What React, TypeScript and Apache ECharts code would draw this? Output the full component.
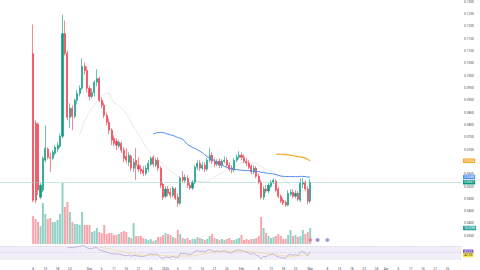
import React, { useEffect, useRef } from "react";
import * as echarts from "echarts";

// ---------- data ----------
const START_DATE = "2025-10-26";
const DAY_COUNT = 188;
const FIRST_CANDLE = "2025-11-08";

const OPEN = [
  0.1089, 0.0806, 0.0802, 0.0506, 0.0535, 0.0656, 0.0701, 0.0668, 0.0664, 0.0684,
  0.0701, 0.0713, 0.0753, 0.1170, 0.1089, 0.0830, 0.0867, 0.0834, 0.0899, 0.0927,
  0.0948, 0.1037, 0.1020, 0.0948, 0.0915, 0.0931, 0.0972, 0.0988, 0.0899, 0.0879,
  0.0838, 0.0810, 0.0778, 0.0745, 0.0733, 0.0713, 0.0725, 0.0697, 0.0672, 0.0648,
  0.0672, 0.0624, 0.0656, 0.0636, 0.0620, 0.0616, 0.0603, 0.0620, 0.0640, 0.0668,
  0.0636, 0.0656, 0.0624, 0.0559, 0.0510, 0.0539, 0.0526, 0.0514, 0.0539, 0.0506,
  0.0482, 0.0587, 0.0575, 0.0583, 0.0555, 0.0543, 0.0567, 0.0628, 0.0644, 0.0624,
  0.0636, 0.0620, 0.0656, 0.0676, 0.0652, 0.0640, 0.0652, 0.0636, 0.0652, 0.0656,
  0.0636, 0.0624, 0.0616, 0.0656, 0.0668, 0.0676, 0.0668, 0.0652, 0.0644, 0.0632,
  0.0608, 0.0624, 0.0591, 0.0567, 0.0506, 0.0539, 0.0531, 0.0551, 0.0567, 0.0571,
  0.0539, 0.0510, 0.0494, 0.0486, 0.0474, 0.0518, 0.0526, 0.0510, 0.0522, 0.0494,
  0.0559, 0.0567, 0.0539, 0.0490,
];
const CLOSE = [
  0.0494, 0.0494, 0.0535, 0.0555, 0.0664, 0.0705, 0.0668, 0.0664, 0.0688, 0.0709,
  0.0717, 0.0753, 0.1170, 0.1089, 0.0830, 0.0867, 0.0834, 0.0899, 0.0927, 0.0948,
  0.1037, 0.1020, 0.0948, 0.0915, 0.0931, 0.0972, 0.0988, 0.0899, 0.0879, 0.0838,
  0.0810, 0.0778, 0.0737, 0.0725, 0.0717, 0.0729, 0.0697, 0.0664, 0.0656, 0.0676,
  0.0624, 0.0648, 0.0636, 0.0620, 0.0612, 0.0603, 0.0624, 0.0644, 0.0664, 0.0640,
  0.0656, 0.0624, 0.0555, 0.0506, 0.0539, 0.0522, 0.0514, 0.0543, 0.0502, 0.0482,
  0.0583, 0.0575, 0.0587, 0.0555, 0.0543, 0.0567, 0.0628, 0.0644, 0.0624, 0.0636,
  0.0620, 0.0656, 0.0676, 0.0652, 0.0640, 0.0652, 0.0636, 0.0652, 0.0656, 0.0636,
  0.0620, 0.0616, 0.0656, 0.0668, 0.0676, 0.0668, 0.0652, 0.0644, 0.0628, 0.0608,
  0.0624, 0.0591, 0.0567, 0.0506, 0.0539, 0.0531, 0.0555, 0.0567, 0.0575, 0.0535,
  0.0510, 0.0490, 0.0482, 0.0474, 0.0522, 0.0526, 0.0510, 0.0522, 0.0498, 0.0563,
  0.0567, 0.0539, 0.0490, 0.0567,
];
const LOW = [
  0.0486, 0.0482, 0.0514, 0.0498, 0.0526, 0.0648, 0.0660, 0.0608, 0.0656, 0.0676,
  0.0688, 0.0705, 0.0745, 0.1081, 0.0818, 0.0786, 0.0778, 0.0826, 0.0883, 0.0915,
  0.0940, 0.1004, 0.0931, 0.0899, 0.0907, 0.0915, 0.0956, 0.0891, 0.0867, 0.0826,
  0.0798, 0.0761, 0.0717, 0.0713, 0.0697, 0.0705, 0.0684, 0.0648, 0.0644, 0.0632,
  0.0612, 0.0608, 0.0575, 0.0608, 0.0599, 0.0591, 0.0595, 0.0608, 0.0632, 0.0628,
  0.0628, 0.0612, 0.0543, 0.0494, 0.0502, 0.0510, 0.0502, 0.0506, 0.0494, 0.0466,
  0.0474, 0.0567, 0.0563, 0.0543, 0.0535, 0.0535, 0.0559, 0.0616, 0.0612, 0.0616,
  0.0608, 0.0612, 0.0648, 0.0640, 0.0628, 0.0632, 0.0624, 0.0624, 0.0644, 0.0628,
  0.0612, 0.0603, 0.0608, 0.0648, 0.0660, 0.0656, 0.0644, 0.0632, 0.0620, 0.0599,
  0.0599, 0.0583, 0.0559, 0.0498, 0.0494, 0.0522, 0.0522, 0.0543, 0.0559, 0.0526,
  0.0502, 0.0482, 0.0474, 0.0466, 0.0470, 0.0510, 0.0502, 0.0502, 0.0490, 0.0486,
  0.0543, 0.0531, 0.0478, 0.0482,
];
const HIGH = [
  0.1207, 0.0818, 0.0810, 0.0563, 0.0672, 0.0798, 0.0709, 0.0688, 0.0697, 0.0717,
  0.0729, 0.0765, 0.1247, 0.1223, 0.1102, 0.0887, 0.0879, 0.0907, 0.0940, 0.0960,
  0.1069, 0.1053, 0.1037, 0.0960, 0.0948, 0.0980, 0.1025, 0.0996, 0.0911, 0.0891,
  0.0850, 0.0826, 0.0786, 0.0757, 0.0745, 0.0737, 0.0733, 0.0709, 0.0705, 0.0688,
  0.0680, 0.0664, 0.0705, 0.0668, 0.0636, 0.0632, 0.0636, 0.0656, 0.0672, 0.0676,
  0.0664, 0.0668, 0.0632, 0.0567, 0.0551, 0.0551, 0.0543, 0.0551, 0.0547, 0.0522,
  0.0591, 0.0612, 0.0599, 0.0595, 0.0567, 0.0575, 0.0636, 0.0656, 0.0656, 0.0648,
  0.0648, 0.0664, 0.0705, 0.0688, 0.0664, 0.0660, 0.0664, 0.0660, 0.0672, 0.0668,
  0.0648, 0.0636, 0.0664, 0.0680, 0.0693, 0.0688, 0.0680, 0.0664, 0.0656, 0.0640,
  0.0636, 0.0632, 0.0603, 0.0575, 0.0551, 0.0555, 0.0563, 0.0575, 0.0583, 0.0579,
  0.0547, 0.0518, 0.0502, 0.0494, 0.0535, 0.0539, 0.0539, 0.0535, 0.0531, 0.0583,
  0.0583, 0.0575, 0.0551, 0.0579,
];
// volume, millions
const VOLUME = [
  28, 25, 22, 18, 41, 30, 25, 26, 22, 22, 24, 30, 61, 37, 42, 32, 22, 20, 20, 19,
  32, 19, 19, 19, 12, 13, 16, 12, 11, 19, 10, 11, 11, 9, 9, 10, 12, 13, 12, 7,
  6, 21, 8, 8, 8, 6, 5, 4, 5, 3, 4, 7, 7, 9, 11, 10, 9, 7, 6, 14,
  10, 6, 5, 6, 4, 5, 5, 7, 6, 5, 4, 5, 8, 10, 6, 5, 4, 5, 4, 5,
  6, 4, 4, 5, 6, 9, 4, 5, 4, 5, 5, 6, 8, 27, 16, 11, 8, 6, 7, 8,
  10, 8, 5, 5, 9, 14, 8, 9, 7, 8, 14, 10, 12, 16,
];

const TICK_DATES = [
  "2025-11-08", "2025-11-13", "2025-11-18", "2025-11-23",
  "2025-12-01", "2025-12-06", "2025-12-11", "2025-12-16", "2025-12-21", "2025-12-26",
  "2026-01-01", "2026-01-06", "2026-01-11", "2026-01-16", "2026-01-21", "2026-01-26",
  "2026-02-01", "2026-02-08", "2026-02-13", "2026-02-18", "2026-02-23",
  "2026-03-01", "2026-03-08", "2026-03-13", "2026-03-18", "2026-03-23", "2026-03-28",
  "2026-04-01", "2026-04-06", "2026-04-11", "2026-04-16", "2026-04-21", "2026-04-26",
];
const TICK_TEXT = [
  "8", "13", "18", "23",
  "Dec", "6", "11", "16", "21", "26",
  "2026", "6", "11", "16", "21", "26",
  "Feb", "8", "13", "18", "23",
  "Mar", "8", "13", "18", "23", "28",
  "Apr", "6", "11", "16", "21", "26",
];

const PRICE_MIN = 0.03;
const PRICE_MAX = 0.13;
const PRICE_STEP = 0.005;

const EVENT_DATES = ["2026-03-01", "2026-03-04", "2026-03-08"];
const EVENT_COLORS = ["#ef6f86", "#8e6bd1", "#7c8fe0"];
const EVENT_LEVEL = 4;

const MA_PERIODS = [20, 50, 100];
const MA_COLORS = ["#cfd2d9", "#4f8fef", "#f5a623"];
const MA_WIDTHS = [0.5, 1, 1.2];
const RSI_PERIOD = 14;

// ---------- helpers ----------
const UP = "#089981";
const DOWN = "#f23645";

function buildDates(): string[] {
  const out: string[] = [];
  const d0 = new Date(START_DATE + "T00:00:00Z");
  for (let i = 0; i < DAY_COUNT; i++) {
    const d = new Date(d0.getTime() + i * 86400000);
    out.push(d.toISOString().slice(0, 10));
  }
  return out;
}

function sma(src: number[], n: number): (number | null)[] {
  return src.map((_, i) => {
    if (i < n - 1) return null;
    let s = 0;
    for (let k = i - n + 1; k <= i; k++) s += src[k];
    return s / n;
  });
}

function rsi(src: number[], n: number): (number | null)[] {
  const out: (number | null)[] = src.map(() => null);
  let g = 0, l = 0;
  for (let i = 1; i <= n; i++) {
    const ch = src[i] - src[i - 1];
    if (ch > 0) g += ch; else l -= ch;
  }
  g /= n; l /= n;
  out[n] = l === 0 ? 100 : 100 - 100 / (1 + g / l);
  for (let i = n + 1; i < src.length; i++) {
    const ch = src[i] - src[i - 1];
    g = (g * (n - 1) + Math.max(ch, 0)) / n;
    l = (l * (n - 1) + Math.max(-ch, 0)) / n;
    out[i] = l === 0 ? 100 : 100 - 100 / (1 + g / l);
  }
  return out;
}

function smaNullable(src: (number | null)[], n: number): (number | null)[] {
  return src.map((_, i) => {
    if (i < n - 1) return null;
    let s = 0;
    for (let k = i - n + 1; k <= i; k++) {
      const v = src[k];
      if (v == null) return null;
      s += v;
    }
    return s / n;
  });
}

const badge = (bg: string, color = "#fff") => ({
  show: true,
  position: "end" as const,
  distance: 2,
  backgroundColor: bg,
  color,
  fontSize: 3.2,
  fontFamily: "Roboto",
  padding: [0.8, 1.2, 0.6, 1.2],
  borderRadius: 0.5,
});

const hiddenLine = { color: "rgba(255,255,255,0)", width: 0.1, type: "solid" };

export default function App() {
  const ref = useRef<HTMLDivElement>(null);

  useEffect(() => {
    if (!ref.current) return;
    const chart = echarts.init(ref.current, undefined, { renderer: "svg" });

    const dates = buildDates();
    const first = dates.indexOf(FIRST_CANDLE);
    const cd = (i: number) => dates[first + i];

    const candles = OPEN.map((o, i) => [cd(i), o, CLOSE[i], LOW[i], HIGH[i]]);
    const vols = VOLUME.map((v, i) => ({
      value: [cd(i), v],
      itemStyle: { color: CLOSE[i] >= OPEN[i] ? "rgba(8,153,129,0.45)" : "rgba(242,54,69,0.45)" },
    }));
    const maLines = MA_PERIODS.map((p) =>
      sma(CLOSE, p)
        .map((v, i) => (v == null ? null : [cd(i), v]))
        .filter((x) => x != null)
    );
    const rsiVals = rsi(CLOSE, RSI_PERIOD);
    const rsiMa = smaNullable(rsiVals, RSI_PERIOD);
    const rsiLine = rsiVals.map((v, i) => (v == null ? null : [cd(i), v])).filter((x) => x != null);
    const rsiMaLine = rsiMa.map((v, i) => (v == null ? null : [cd(i), v])).filter((x) => x != null);

    const last = CLOSE.length - 1;
    const tickSet = new Set(TICK_DATES);
    const lastOf = (arr: any[]) => (arr[arr.length - 1] as any)[1] as number;

    const gridCommon = { left: 0, right: 19 };
    const xBase = {
      type: "category" as const,
      data: dates,
      boundaryGap: true,
      axisLine: { show: false },
      axisTick: { show: false },
      splitLine: { show: false },
    };

    const priceFmt = (p: any) => Number(p.value).toFixed(4);

    const maSeries = maLines.map((d, k) => {
      const s: any = {
        type: "line",
        xAxisIndex: 0,
        yAxisIndex: 0,
        data: d,
        symbol: "none",
        lineStyle: { color: MA_COLORS[k], width: MA_WIDTHS[k] },
        z: k === 0 ? 1 : 3,
      };
      if (k === 1) {
        s.markLine = {
          silent: true,
          symbol: "none",
          precision: 6,
          data: [
            {
              yAxis: lastOf(d),
              lineStyle: hiddenLine,
              label: { ...badge(MA_COLORS[k]), formatter: priceFmt },
            },
            {
              yAxis: CLOSE[last],
              lineStyle: { color: "#8fcfc5", width: 0.5, type: "solid" },
              label: { ...badge(UP), formatter: priceFmt },
            },
          ],
        };
      } else if (k === 2) {
        s.markLine = {
          silent: true,
          symbol: "none",
          precision: 6,
          data: [
            {
              yAxis: lastOf(d),
              lineStyle: hiddenLine,
              label: { ...badge(MA_COLORS[k]), formatter: priceFmt },
            },
          ],
        };
      }
      return s;
    });

    chart.setOption({
      animation: false,
      backgroundColor: "#ffffff",
      grid: [
        { ...gridCommon, top: 1, height: 247 },
        { ...gridCommon, top: 183, height: 61 },
        { ...gridCommon, top: 239.5, height: 26 },
      ],
      xAxis: [
        { ...xBase, gridIndex: 0, axisLabel: { show: false } },
        { ...xBase, gridIndex: 1, axisLabel: { show: false } },
        {
          ...xBase,
          gridIndex: 2,
          axisLabel: {
            show: true,
            interval: (_i: number, v: string) => tickSet.has(v),
            formatter: (v: string) => TICK_TEXT[TICK_DATES.indexOf(v)] ?? "",
            fontSize: 3.2,
            color: "#4a4e59",
            fontFamily: "Roboto",
            margin: 1.5,
            hideOverlap: false,
          },
        },
      ],
      yAxis: [
        {
          type: "value",
          gridIndex: 0,
          position: "right",
          min: PRICE_MIN,
          max: PRICE_MAX,
          interval: PRICE_STEP,
          axisLine: { show: false },
          axisTick: { show: false },
          splitLine: { show: false },
          axisLabel: {
            show: true,
            showMinLabel: false,
            fontSize: 3.2,
            color: "#4a4e59",
            fontFamily: "Roboto",
            margin: 3,
            formatter: (v: number) => v.toFixed(4),
          },
        },
        {
          type: "value",
          gridIndex: 1,
          min: 0,
          max: 61,
          show: false,
        },
        {
          type: "value",
          gridIndex: 2,
          position: "right",
          min: 10,
          max: 90,
          axisLine: { show: false },
          axisTick: { show: false },
          splitLine: { show: false },
          axisLabel: { show: false },
        },
      ],
      series: [
        {
          type: "bar",
          xAxisIndex: 1,
          yAxisIndex: 1,
          data: vols,
          barWidth: "80%",
          z: 1,
          markLine: {
            silent: true,
            symbol: "none",
            precision: 4,
            data: [
              {
                yAxis: VOLUME[last],
                lineStyle: hiddenLine,
                label: { ...badge("#26a69a"), formatter: (p: any) => Number(p.value).toFixed(2) + "M" },
              },
            ],
          },
        },
        {
          type: "scatter",
          xAxisIndex: 1,
          yAxisIndex: 1,
          data: EVENT_DATES.map((d, k) => ({
            value: [d, EVENT_LEVEL],
            itemStyle: { color: EVENT_COLORS[k], borderColor: "#d0d3dc", borderWidth: 0.6 },
          })),
          symbol: "circle",
          symbolSize: 4,
          z: 6,
        },
        {
          type: "candlestick",
          xAxisIndex: 0,
          yAxisIndex: 0,
          data: candles,
          encode: { x: 0, y: [1, 2, 3, 4] },
          barWidth: "65%",
          itemStyle: {
            color: UP,
            color0: DOWN,
            borderColor: UP,
            borderColor0: DOWN,
            borderWidth: 0.6,
          },
          z: 2,
        },
        ...maSeries,
        {
          type: "line",
          xAxisIndex: 2,
          yAxisIndex: 2,
          data: rsiLine,
          symbol: "none",
          lineStyle: { color: "#8e7cc3", width: 0.5 },
          z: 3,
          markArea: {
            silent: true,
            itemStyle: { color: "rgba(126,87,194,0.1)" },
            data: [[{ yAxis: 30 }, { yAxis: 70 }]],
          },
          markLine: {
            silent: true,
            symbol: "none",
            precision: 4,
            lineStyle: { color: "#b2b5be", width: 0.5, type: [1, 1.5] },
            label: { show: false },
            data: [
              { yAxis: 70 },
              { yAxis: 50 },
              { yAxis: 30 },
              {
                yAxis: lastOf(rsiLine),
                lineStyle: hiddenLine,
                label: { ...badge("#7e57c2"), formatter: (p: any) => Number(p.value).toFixed(2) },
              },
            ],
          },
        },
        {
          type: "line",
          xAxisIndex: 2,
          yAxisIndex: 2,
          data: rsiMaLine,
          symbol: "none",
          lineStyle: { color: "#f3d26b", width: 0.5 },
          z: 3,
          markLine: {
            silent: true,
            symbol: "none",
            precision: 4,
            data: [
              {
                yAxis: lastOf(rsiMaLine),
                lineStyle: hiddenLine,
                label: { ...badge("#f7e34f", "#333"), formatter: (p: any) => Number(p.value).toFixed(2) },
              },
            ],
          },
        },
      ],
    });

    return () => chart.dispose();
  }, []);

  return (
    <div
      ref={ref}
      style={{ position: "fixed", left: 0, top: 0, width: 480, height: 270, background: "#fff" }}
    />
  );
}
